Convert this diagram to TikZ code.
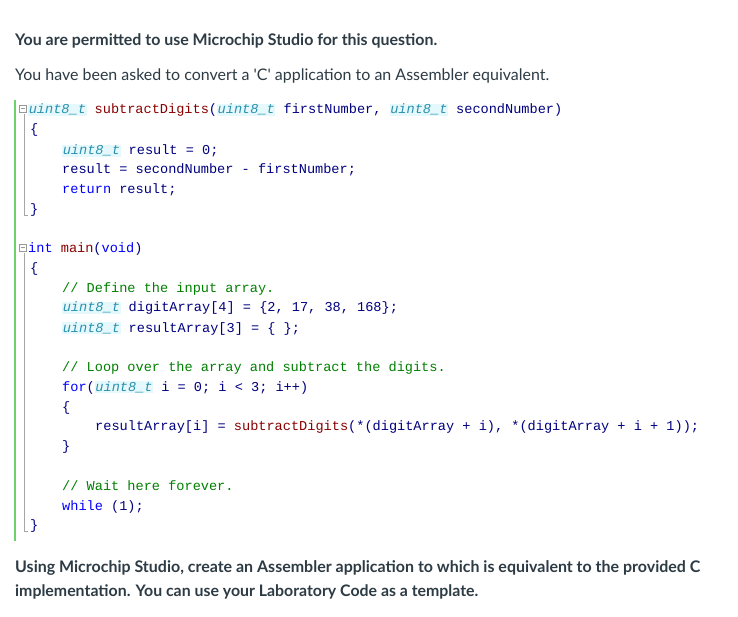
\documentclass[tikz,border=0pt]{standalone}
\usepackage{fontspec}
\setmainfont{Lato}
\setmonofont{Liberation Mono}
\definecolor{txt}{HTML}{2D3B45}
\definecolor{kw}{HTML}{0000FF}
\definecolor{ty}{HTML}{2B91AF}
\definecolor{tyb}{HTML}{E5F9FC}
\definecolor{fn}{HTML}{880000}
\definecolor{id}{HTML}{000080}
\definecolor{cm}{HTML}{008000}
\definecolor{bar}{HTML}{6CD26C}
\newcommand\kw[1]{\textcolor{kw}{#1}}
\newcommand\ty[1]{{\setlength\fboxsep{0.6pt}\colorbox{tyb}{\textcolor{ty}{\itshape #1}}}}
\newcommand\fn[1]{\textcolor{fn}{#1}}
\newcommand\cm[1]{\textcolor{cm}{#1}}
\begin{document}
\begin{tikzpicture}[x=1pt,y=-1pt,
  code/.style={anchor=base west,inner sep=0pt,font=\fontsize{13.6}{14}\ttfamily,text=id},
  prose/.style={anchor=base west,inner sep=0pt,text=txt}]
\fill[white] (0,0) rectangle (738,617);
\useasboundingbox (0,0) rectangle (738,617);
% prose
\node[prose] (t1) at (15,46) {\resizebox{422pt}{!}{\bfseries You are permitted to use Microchip Studio for this question.}};
\node[prose] (t2) at (15,81) {\resizebox{534pt}{!}{You have been asked to convert a \textquotesingle C\textquotesingle{} application to an Assembler equivalent.}};
\node[prose] (t3) at (15,572) {\resizebox{685pt}{!}{\bfseries Using Microchip Studio, create an Assembler application to which is equivalent to the provided C}};
\node[prose] (t4) at (15,596) {\resizebox{463pt}{!}{\bfseries implementation. You can use your Laboratory Code as a template.}};
% margin
\draw[bar,line width=2.5pt] (15,100) -- (15,541);
\draw[gray!70,line width=0.6pt] (24,114) -- (24,215) -- (28,215);
\draw[gray!70,line width=0.6pt] (24,253) -- (24,531) -- (28,531);
\draw[gray!80,line width=0.5pt] (19,105) rectangle (26,112);
\draw[gray!80,line width=0.5pt] (20.5,108.5) -- (24.5,108.5);
\draw[gray!80,line width=0.5pt] (19,244) rectangle (26,251);
\draw[gray!80,line width=0.5pt] (20.5,247.5) -- (24.5,247.5);
% code
\node[code] (c1) at (28,114) {\ty{uint8\_t} \fn{subtractDigits}(\ty{uint8\_t} firstNumber, \ty{uint8\_t} secondNumber)};
\node[code] (c2) at (30,134) {\{};
\node[code] (c3) at (62,155) {\ty{uint8\_t} result = 0;};
\node[code] (c4) at (62,174) {result = secondNumber - firstNumber;};
\node[code] (c5) at (62,194) {\kw{return} result;};
\node[code] (c6) at (30,214) {\}};
\node[code] (c7) at (28,253) {\kw{int} \fn{main}(\kw{void})};
\node[code] (c8) at (30,273) {\{};
\node[code] (c9) at (62,293) {\cm{// Define the input array.}};
\node[code] (c10) at (62,312) {\ty{uint8\_t} digitArray[4] = \{2, 17, 38, 168\};};
\node[code] (c11) at (62,332) {\ty{uint8\_t} resultArray[3] = \{ \};};
\node[code] (c12) at (62,371) {\cm{// Loop over the array and subtract the digits.}};
\node[code] (c13) at (62,391) {\kw{for}(\ty{uint8\_t} i = 0; i < 3; i++)};
\node[code] (c14) at (62,411) {\{};
\node[code] (c15) at (95,430) {resultArray[i] = \fn{subtractDigits}(*(digitArray + i), *(digitArray + i + 1));};
\node[code] (c16) at (62,450) {\}};
\node[code] (c17) at (62,490) {\cm{// Wait here forever.}};
\node[code] (c18) at (62,510) {\kw{while} (1);};
\node[code] (c19) at (30,529) {\}};
\end{tikzpicture}
\end{document}
